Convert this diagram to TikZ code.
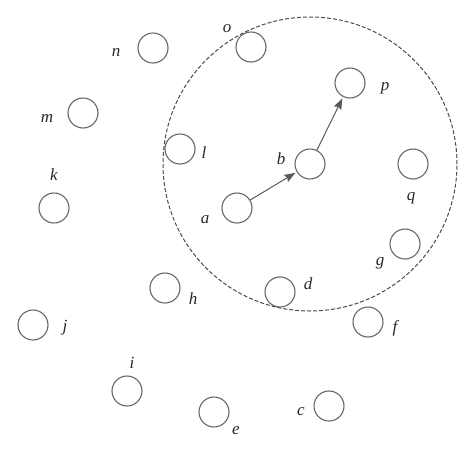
\documentclass[tikz,border=0pt]{standalone}
\usepackage{fontspec}
\setmainfont{Liberation Serif}
\usetikzlibrary{arrows.meta}
\begin{document}
\begin{tikzpicture}[x=1pt,y=-1pt,
  pt/.style={circle,draw=black!60,line width=1.1pt,minimum size=30pt,inner sep=0pt},
  lbl/.style={inner sep=0pt,font=\fontsize{17}{19}\selectfont\itshape,text=black!85},
  ring/.style={circle,draw=black!70,line width=1pt,dash pattern=on 4pt off 2pt,minimum size=294pt,inner sep=0pt},
  link/.style={draw=black!65,line width=1pt,-{Stealth[length=11pt,width=8pt,inset=1.5pt]},shorten >=1.5pt}
]
\useasboundingbox (0,0) rectangle (474,453);
% points
\node[pt] (a) at (237,208) {};
\node[pt] (b) at (310,164) {};
\node[pt] (c) at (329,406) {};
\node[pt] (d) at (280,292) {};
\node[pt] (e) at (214,412) {};
\node[pt] (f) at (368,322) {};
\node[pt] (g) at (405,244) {};
\node[pt] (h) at (165,288) {};
\node[pt] (i) at (127,391) {};
\node[pt] (j) at (33,325) {};
\node[pt] (k) at (54,208) {};
\node[pt] (l) at (180,149) {};
\node[pt] (m) at (83,113) {};
\node[pt] (n) at (153,48) {};
\node[pt] (o) at (251,47) {};
\node[pt] (p) at (350,83) {};
\node[pt] (q) at (413,164) {};
% range circle around b
\node[ring] (zone) at (b.center) {};
% labels
\node[lbl] (la) at (205,220) {a};
\node[lbl] (lb) at (281,159) {b};
\node[lbl] (lc) at (301,412) {c};
\node[lbl] (ld) at (308,284) {d};
\node[lbl] (le) at (236,431) {e};
\node[lbl] (lf) at (395,328) {f};
\node[lbl] (lg) at (380,263) {g};
\node[lbl] (lh) at (193,299) {h};
\node[lbl] (li) at (132,363) {i};
\node[lbl] (lj) at (65,328) {j};
\node[lbl] (lk) at (54,175) {k};
\node[lbl] (ll) at (204,153) {l};
\node[lbl] (lm) at (47,118) {m};
\node[lbl] (ln) at (116,52) {n};
\node[lbl] (lo) at (227,29) {o};
\node[lbl] (lp) at (385,88) {p};
\node[lbl] (lq) at (411,198) {q};
% moves
\draw[link] (a) -- (b);
\draw[link] (b) -- (p);
\end{tikzpicture}
\end{document}
